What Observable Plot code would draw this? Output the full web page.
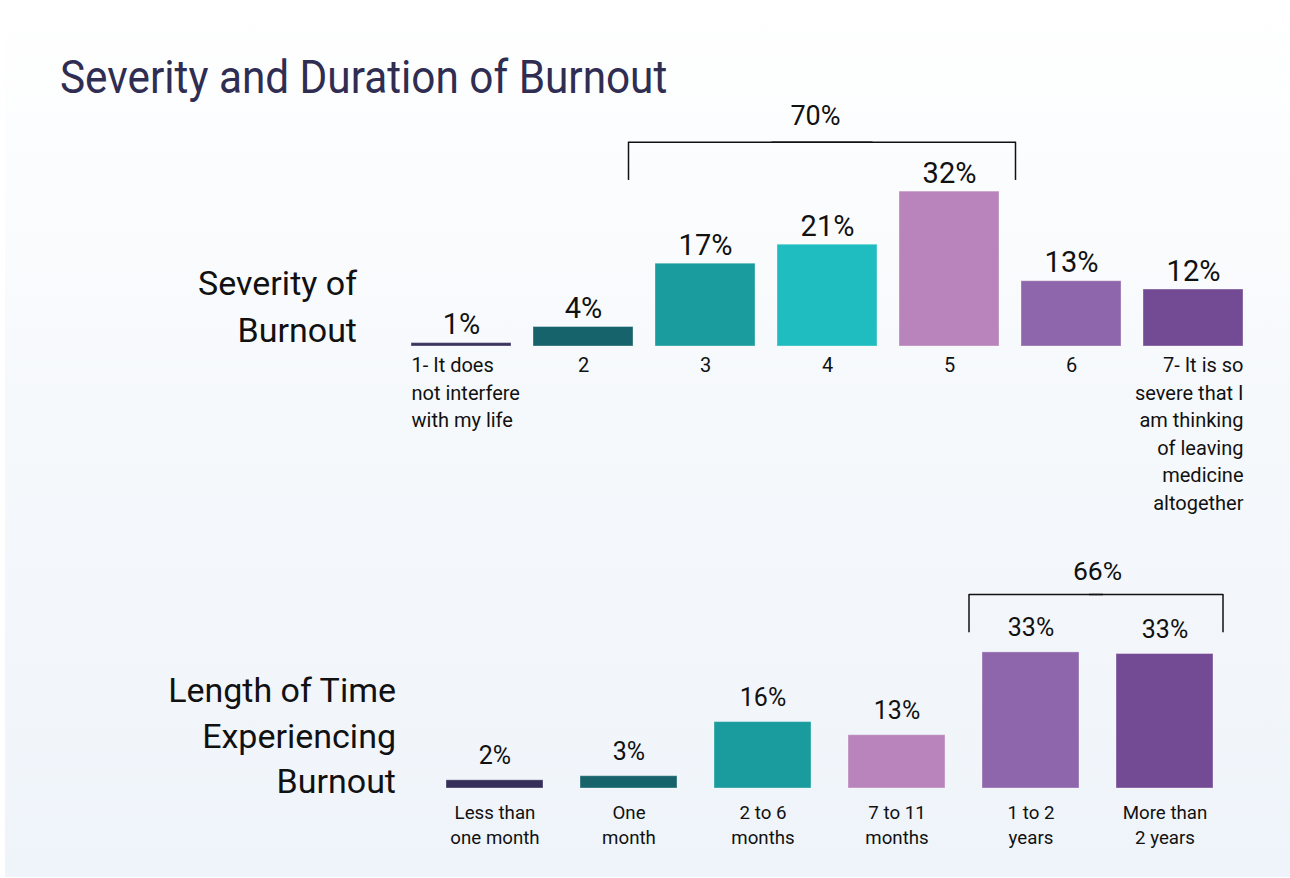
<!DOCTYPE html>
<html>
<head>
<meta charset="utf-8">
<script src="https://cdn.jsdelivr.net/npm/d3@7"></script>
<script src="https://cdn.jsdelivr.net/npm/@observablehq/plot@0.6"></script>
<style>
  html, body { margin: 0; padding: 0; background: #ffffff; }
  #page { position: relative; width: 1290px; height: 878px; overflow: hidden; background: #ffffff; font-family: Roboto, "Noto Sans", sans-serif; }
  #bg { position: absolute; left: 5px; top: 0; width: 1285px; height: 877px; background: linear-gradient(to bottom, #ffffff 0%, #f6f9fc 45%, #eff4fa 100%); }
  #title { position: absolute; left: 60px; top: 53px; font-size: 47px; line-height: 47px; color: #2f2d52; white-space: nowrap; transform: scaleX(0.9); transform-origin: 0 0; }
  .side { position: absolute; text-align: right; font-size: 34px; color: #111111; white-space: nowrap; }
  #side1 { right: calc(1290px - 357px); top: 260px; line-height: 47px; }
  #side2 { right: calc(1290px - 396px); top: 668px; line-height: 45.5px; }
  .chart { position: absolute; left: 0; }
  #c1 { top: 90px; }
  #c2 { top: 542px; }
</style>
</head>
<body>
<div id="page">
  <div id="bg"></div>
  <div id="title">Severity and Duration of Burnout</div>
  <div class="side" id="side1">Severity of<br>Burnout</div>
  <div class="side" id="side2">Length of Time<br>Experiencing<br>Burnout</div>
  <div class="chart" id="c1"></div>
  <div class="chart" id="c2"></div>
</div>
<script>
// ---------- Severity of burnout ----------
const sevCategories = ["1", "2", "3", "4", "5", "6", "7"];
const sevTickLabels = [
  "1- It does\nnot interfere\nwith my life",
  "2", "3", "4", "5", "6",
  "7- It is so\nsevere that I\nam thinking\nof leaving\nmedicine\naltogether"
];
const sevValues = [0.7, 4.0, 17.0, 20.9, 31.8, 13.4, 11.7];
const sevValueLabels = ["1%", "4%", "17%", "21%", "32%", "13%", "12%"];
const sevColors = ["#3a355f", "#17636b", "#1a9b9e", "#1fbcc0", "#b884bb", "#8d66ab", "#734a94"];
const sevBracketSpan = ["3", "5"];
const sevBracketLabel = "70%";

// ---------- Length of time ----------
const timeCategories = ["Less than one month", "One month", "2 to 6 months", "7 to 11 months", "1 to 2 years", "More than 2 years"];
const timeTickLabels = ["Less than\none month", "One\nmonth", "2 to 6\nmonths", "7 to 11\nmonths", "1 to 2\nyears", "More than\n2 years"];
const timeValues = [2.0, 3.0, 16.2, 13.0, 33.2, 32.8];
const timeValueLabels = ["2%", "3%", "16%", "13%", "33%", "33%"];
const timeColors = ["#35305a", "#17636b", "#1a9b9e", "#b884bb", "#8d66ab", "#734a94"];
const timeBracketSpan = ["1 to 2 years", "More than 2 years"];
const timeBracketLabel = "66%";

const sevData = sevCategories.map((c, i) => ({cat: c, value: sevValues[i], label: sevValueLabels[i], tick: sevTickLabels[i], color: sevColors[i], idx: i}));
const timeData = timeCategories.map((c, i) => ({cat: c, value: timeValues[i], label: timeValueLabels[i], tick: timeTickLabels[i], color: timeColors[i], idx: i}));

const font = "Roboto, 'Noto Sans', sans-serif";
const ink = "#111111";

// Chart 1
const sevChart = Plot.plot({
  width: 1290,
  height: 430,
  marginTop: 12.5,
  marginBottom: 174,
  marginLeft: 400,
  marginRight: 36,
  style: {background: "transparent", fontFamily: font, overflow: "visible"},
  x: {domain: sevCategories, paddingInner: 0.18, paddingOuter: 0.09, axis: null},
  y: {domain: [0, 50], axis: null},
  marks: [
    Plot.barY(sevData, {x: "cat", y: "value", fill: "color", stroke: "#ffffff", strokeOpacity: 0.35, strokeWidth: 1}),
    Plot.text(sevData, {x: "cat", y: "value", text: "label", dy: -9, lineAnchor: "bottom", fontSize: 29, fill: ink}),
    // category labels
    Plot.text(sevData.filter(d => d.idx === 0), {x: "cat", y: 0, text: "tick", textAnchor: "start", dx: -50, dy: 6, lineAnchor: "top", lineHeight: 1.38, fontSize: 20, fill: ink}),
    Plot.text(sevData.filter(d => d.idx > 0 && d.idx < sevData.length - 1), {x: "cat", y: 0, text: "tick", textAnchor: "middle", dy: 6, lineAnchor: "top", lineHeight: 1.38, fontSize: 20, fill: ink}),
    Plot.text(sevData.filter(d => d.idx === sevData.length - 1), {x: "cat", y: 0, text: "tick", textAnchor: "end", dx: 50, dy: 6, lineAnchor: "top", lineHeight: 1.38, fontSize: 20, fill: ink}),
    // bracket
    Plot.ruleX([sevBracketSpan[0]], {x: d => d, y1: 34.1, y2: 41.95, dx: -77, stroke: ink, strokeWidth: 1.5}),
    Plot.ruleX([sevBracketSpan[1]], {x: d => d, y1: 34.1, y2: 41.95, dx: 66, stroke: ink, strokeWidth: 1.5}),
    Plot.link([sevBracketSpan], {x1: d => d[0], x2: d => d[1], y1: 41.95, y2: 41.95, dx: -77, stroke: ink, strokeWidth: 1.5}),
    Plot.link([sevBracketSpan], {x1: d => d[0], x2: d => d[1], y1: 41.95, y2: 41.95, dx: 66, stroke: ink, strokeWidth: 1.5}),
    Plot.text([sevBracketLabel], {x: () => sevCategories[3], y: () => 45.5, text: d => d, dx: -12, lineAnchor: "bottom", fontSize: 27, fill: ink})
  ]
});
document.getElementById("c1").appendChild(sevChart);

// Chart 2
const timeChart = Plot.plot({
  width: 1290,
  height: 328,
  marginTop: 0,
  marginBottom: 82,
  marginLeft: 426.3,
  marginRight: 57.3,
  style: {background: "transparent", fontFamily: font, overflow: "visible"},
  x: {domain: timeCategories, paddingInner: 0.278, paddingOuter: 0.139, axis: null},
  y: {domain: [0, 60], axis: null},
  marks: [
    Plot.barY(timeData, {x: "cat", y: "value", fill: "color", stroke: "#ffffff", strokeOpacity: 0.35, strokeWidth: 1}),
    Plot.text(timeData, {x: "cat", y: "value", text: "label", dy: -16.5, lineAnchor: "bottom", fontSize: 25, fill: ink}),
    Plot.text(timeData, {x: "cat", y: 0, text: "tick", textAnchor: "middle", dy: 13, lineAnchor: "top", lineHeight: 1.34, fontSize: 18.7, fill: ink}),
    // bracket
    Plot.ruleX([timeBracketSpan[0]], {x: d => d, y1: 38.0, y2: 47.3, dx: -62, stroke: ink, strokeWidth: 1.5}),
    Plot.ruleX([timeBracketSpan[1]], {x: d => d, y1: 38.0, y2: 47.3, dx: 58, stroke: ink, strokeWidth: 1.5}),
    Plot.link([timeBracketSpan], {x1: d => d[0], x2: d => d[1], y1: 47.3, y2: 47.3, dx: -62, stroke: ink, strokeWidth: 1.5}),
    Plot.link([timeBracketSpan], {x1: d => d[0], x2: d => d[1], y1: 47.3, y2: 47.3, dx: 58, stroke: ink, strokeWidth: 1.5}),
    Plot.text([timeBracketLabel], {x: () => timeBracketSpan[0], y: () => 50.9, text: d => d, dx: 66.5, lineAnchor: "bottom", fontSize: 26.5, fill: ink})
  ]
});
document.getElementById("c2").appendChild(timeChart);
</script>
</body>
</html>
